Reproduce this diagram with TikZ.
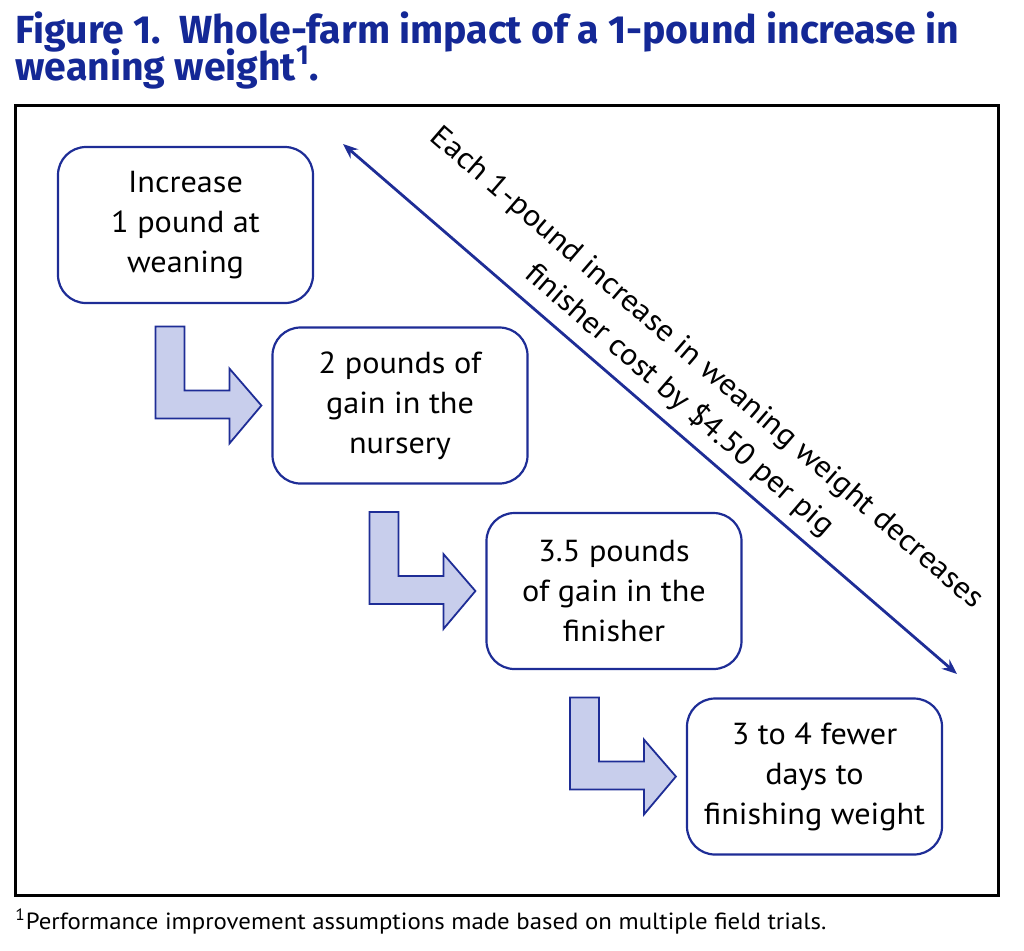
\documentclass[tikz,border=0pt]{standalone}
\usepackage{fontspec}
\setmainfont[FakeStretch=1.06]{PT Sans}
\newfontfamily\titlefont{Fira Sans}
\usepackage{tikz}
\usetikzlibrary{arrows.meta}
\definecolor{titleblue}{RGB}{20,40,150}
\definecolor{boxblue}{RGB}{30,45,150}
\definecolor{arrowfill}{RGB}{200,206,236}

\begin{document}
\begin{tikzpicture}[x=0.5pt,y=-0.5pt,stage/.style={draw=boxblue,line width=1.1pt,rounded corners=14pt,minimum width=127.5pt,minimum height=78pt,align=center,inner sep=0pt,font=\fontsize{15.2}{20}\selectfont},lturn/.style={draw=boxblue,fill=arrowfill,line width=0.9pt,line join=miter},ttl/.style={anchor=base west,inner sep=0pt,text=titleblue,font=\titlefont\bfseries\fontsize{19.6}{24}\selectfont}]
\useasboundingbox (0,0) rectangle (1024,950);
\node[ttl] (title) at (15,43) {Figure 1.~~Whole-farm impact of a 1-pound increase in};
\node[ttl] (title2) at (15,80) {weaning weight\textsuperscript{1}.};
\draw[line width=1.5pt] (15,105) rectangle (998,895);
\node[stage] (b1) at (185.5,225) {Increase\\1 pound at\\weaning};
\node[stage] (b2) at (400,405.5) {2 pounds of\\gain in the\\nursery};
\node[stage] (b3) at (614,591) {3.5 pounds\\of gain in the\\finisher};
\node[stage] (b4) at (814.5,776.5) {3 to 4 fewer\\days to\\finishing weight};
\foreach \j in %
{2,3,4} {
   \draw[lturn] ([xshift=-5pt]b\j.west) -- ++(-32,-37) -- ++(0,22) -- ++(-45,0) -- ++(0,-64)
      -- ++(-29,0) -- ++(0,92) -- ++(74,0) -- ++(0,25) -- cycle;
}
\coordinate (top) at (343,144);
\coordinate (bot) at (957,674);
\draw[boxblue,line width=1.4pt,{Stealth[length=7.5pt,width=6pt]}-{Stealth[length=7.5pt,width=6pt]}] (top) -- (bot)
   node[pos=0.52,above=1.5pt,sloped,align=center,text=black,font=\fontsize{15.2}{21}\selectfont] (cost)
   {Each 1-pound increase in weaning weight decreases\\finisher cost by \$4.50 per pig};
\node[anchor=base west,inner sep=0pt,font=\fontsize{11.7}{14}\selectfont] (note) at (15,929)
   {\textsuperscript{1}Performance improvement assumptions made based on multiple field trials.};
\end{tikzpicture}
\end{document}
